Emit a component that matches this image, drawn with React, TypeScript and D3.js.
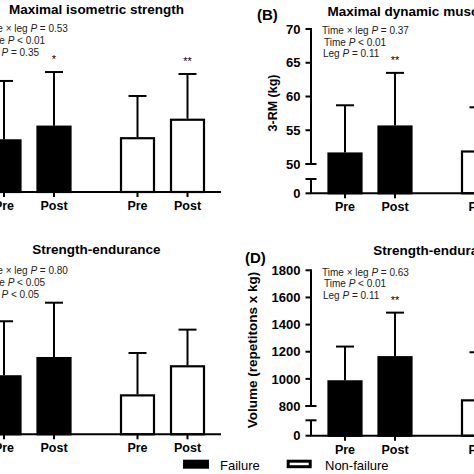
import React from 'react';
import * as d3 from 'd3';

const legs = ['Failure', 'Non-failure'];
const times = ['Pre', 'Post'];

// bar order: Failure Pre, Failure Post, Non-failure Pre, Non-failure Post
const isoMean = [31.9, 40.2, 33.2, 44.4];
const isoSd = [35.4, 32.5, 25.0, 27.1];
const isoSig = ['', '*', '', '**'];
const isoStats = [['Time × leg', '= 0.53'], ['Time', '< 0.01'], ['Leg', '= 0.35']];

const rmMean = [51.7, 55.7, 52.0, 54.8];
const rmSd = [7.0, 7.8, 6.4, 6.5];
const rmSig = ['', '**', '', ''];
const rmStats = [['Time × leg', '= 0.37'], ['Time', '< 0.01'], ['Leg', '= 0.11']];
const rmTicks = [50, 55, 60, 65, 70];

const endMean = [35.9, 47.0, 24.3, 42.0];
const endSd = [32.9, 33.1, 25.2, 21.7];
const endSig = ['', '', '', ''];
const endStats = [['Time × leg', '= 0.80'], ['Time', '< 0.05'], ['Leg', '< 0.05']];

const volMean = [989, 1167, 849, 1000];
const volSd = [249, 321, 347, 330];
const volSig = ['', '**', '', ''];
const volStats = [['Time × leg', '= 0.63'], ['Time', '< 0.01'], ['Leg', '= 0.11']];
const volTicks = [800, 1000, 1200, 1400, 1600, 1800];

const FONT = '"Liberation Sans", Arial, Helvetica, sans-serif';

const panels = [
  {
    key: 'A', label: '(A)', labelX: -84, labelY: 18,
    title: 'Maximal isometric strength', titleY: 14,
    axisX: -30, baseY: 192, topY: 27, domain: [0, 100], breakY: null, ticks: null,
    yTitle: '', yTitleX: 0, yTitleY: 0, yTitleSize: 12,
    mean: isoMean, sd: isoSd, sig: isoSig, stats: isoStats, statsY: [32, 44, 56],
  },
  {
    key: 'B', label: '(B)', labelX: 257, labelY: 20,
    title: 'Maximal dynamic muscle strength', titleY: 16,
    axisX: 311, baseY: 193.3, topY: 29, domain: [50, 70], breakY: [164, 179], ticks: rmTicks,
    yTitle: '3-RM (kg)', yTitleX: 272, yTitleY: 103, yTitleSize: 12.5,
    mean: rmMean, sd: rmSd, sig: rmSig, stats: rmStats, statsY: [34, 45.5, 57],
  },
  {
    key: 'C', label: '(C)', labelX: -84, labelY: 260,
    title: 'Strength-endurance', titleY: 254,
    axisX: -30, baseY: 434.3, topY: 270, domain: [0, 100], breakY: null, ticks: null,
    yTitle: '', yTitleX: 0, yTitleY: 0, yTitleSize: 12,
    mean: endMean, sd: endSd, sig: endSig, stats: endStats, statsY: [274, 286, 297.7],
  },
  {
    key: 'D', label: '(D)', labelX: 245, labelY: 263,
    title: 'Strength-endurance', titleY: 255,
    axisX: 311, baseY: 435.7, topY: 270.3, domain: [800, 1800], breakY: [406, 420.3], ticks: volTicks,
    yTitle: 'Volume (repetitons x kg)', yTitleX: 252, yTitleY: 350, yTitleSize: 13.5,
    mean: volMean, sd: volSd, sig: volSig, stats: volStats, statsY: [276, 287, 298.7],
  },
];

const barW = 33;
const capW = 18;
const tickLen = 5.5;
const axisLen = 251;

function Panel({ p }) {
  const x0 = p.axisX;
  // bottom of the upper segment is the lowest tick when the axis is broken
  const lowY = p.breakY ? p.breakY[0] : p.baseY;
  const y = d3.scaleLinear().domain(p.domain).range([lowY, p.topY]);

  const xLeg = d3.scalePoint().domain(legs).range([x0 + 59, x0 + 192.5]);
  const xTime = d3.scalePoint().domain(times).range([-25, 25]);

  const bars = legs.flatMap((leg, li) =>
    times.map((t, ti) => {
      const i = li * 2 + ti;
      return {
        leg, t, cx: xLeg(leg) + xTime(t),
        top: y(p.mean[i]), cap: y(p.mean[i] + p.sd[i]), sig: p.sig[i],
      };
    })
  );

  return (
    <g>
      <text x={x0 + 126.5} y={p.titleY} textAnchor="middle" fontWeight="bold" fontSize={13.5}>
        {p.title}
      </text>
      <text x={p.labelX} y={p.labelY} fontWeight="bold" fontSize={15}>{p.label}</text>

      {p.stats.map((s, i) => (
        <text key={i} x={x0 + 11 + [0, 2, 1][i]} y={p.statsY[i]} fontSize={10} fill="#222">
          {s[0]} <tspan fontStyle="italic">P</tspan> {s[1]}
        </text>
      ))}

      {/* error bars first so the filled bars cover the lower part */}
      {bars.map((b, i) => (
        <g key={'e' + i} stroke="#000" strokeWidth={2}>
          <line x1={b.cx} x2={b.cx} y1={b.top} y2={b.cap} />
          <line x1={b.cx - capW / 2} x2={b.cx + capW / 2} y1={b.cap} y2={b.cap} />
        </g>
      ))}
      {bars.map((b, i) => (
        <rect key={'b' + i} x={b.cx - barW / 2} y={b.top + 1} width={barW}
          height={p.baseY - b.top - 1}
          fill={b.leg === 'Failure' ? '#000' : '#fff'} stroke="#000" strokeWidth={2.2} />
      ))}
      {bars.map((b, i) => b.sig ? (
        <text key={'s' + i} x={b.cx} y={b.cap - 9} textAnchor="middle" fontSize={11}>{b.sig}</text>
      ) : null)}

      {/* x axis */}
      <line x1={x0 - 1} x2={x0 + axisLen} y1={p.baseY} y2={p.baseY} stroke="#000" strokeWidth={2} />
      {bars.map((b, i) => (
        <g key={'x' + i}>
          <line x1={b.cx} x2={b.cx} y1={p.baseY} y2={p.baseY + 5} stroke="#000" strokeWidth={2} />
          <text x={b.cx} y={p.baseY + 18} textAnchor="middle" fontWeight="bold" fontSize={12.5}>{b.t}</text>
        </g>
      ))}

      {/* y axis */}
      <line x1={x0} x2={x0} y1={p.topY - 1} y2={lowY} stroke="#000" strokeWidth={2} />
      {p.breakY && (
        <g stroke="#000" strokeWidth={2}>
          <line x1={x0 - tickLen} x2={x0 + tickLen} y1={p.breakY[0]} y2={p.breakY[0]} />
          <line x1={x0 - tickLen} x2={x0 + tickLen} y1={p.breakY[1]} y2={p.breakY[1]} />
          <line x1={x0} x2={x0} y1={p.breakY[1]} y2={p.baseY} />
          <line x1={x0 - tickLen} x2={x0} y1={p.baseY} y2={p.baseY} />
        </g>
      )}
      {p.ticks && p.ticks.map((t) => (
        <g key={t}>
          <line x1={x0 - tickLen} x2={x0} y1={y(t)} y2={y(t)} stroke="#000" strokeWidth={2} />
          <text x={x0 - 10.5} y={y(t)} dy="0.36em" textAnchor="end" fontWeight="bold" fontSize={13}>{t}</text>
        </g>
      ))}
      {p.ticks && (
        <text x={x0 - 10.5} y={p.baseY} dy="0.36em" textAnchor="end" fontWeight="bold" fontSize={13}>0</text>
      )}
      {p.yTitle && (
        <text transform={`translate(${p.yTitleX},${p.yTitleY}) rotate(-90)`} textAnchor="middle"
          dy="0.36em" fontWeight="bold" fontSize={p.yTitleSize}>
          {p.yTitle}
        </text>
      )}
    </g>
  );
}

export default function App() {
  return (
    <svg width={474} height={474} style={{ position: 'absolute', left: 0, top: 0, background: '#fff' }}
      fontFamily={FONT}>
      <rect width={474} height={474} fill="#fff" />
      {panels.map((p) => <Panel key={p.key} p={p} />)}

      {/* legend */}
      <rect x={183} y={459.7} width={26} height={9} fill="#000" />
      <text x={220} y={470} fontSize={13}>{legs[0]}</text>
      <rect x={288.2} y={461.2} width={22} height={5.5} fill="#fff" stroke="#000" strokeWidth={3} />
      <text x={325} y={470} fontSize={13}>{legs[1]}</text>
    </svg>
  );
}
